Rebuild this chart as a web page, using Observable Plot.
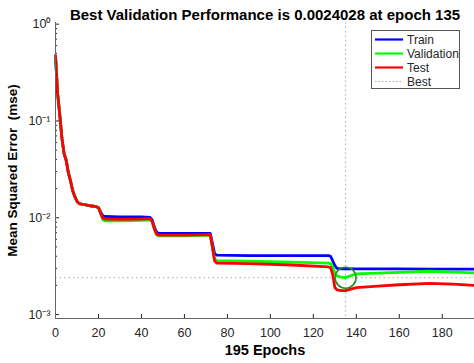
<!DOCTYPE html>
<html><head><meta charset="utf-8">
<script src="https://cdn.jsdelivr.net/npm/d3@7"></script>
<script src="https://cdn.jsdelivr.net/npm/@observablehq/plot@0.6"></script>
<style>
body{margin:0;background:#fff;}
#wrap{position:relative;width:474px;height:363px;overflow:hidden;font-family:"Liberation Sans",Arial,sans-serif;}
#legend{position:absolute;left:371px;top:30px;width:89px;height:59px;border:1px solid #555;background:#fff;box-sizing:border-box;}
</style></head><body><div id="wrap"></div>
<script>
const epochs = [0,1,2,3,4,5,6,7,8,9,10,11,13,16,19,20,21,22,23,30,40,44,45,46,47,48,60,72,73,74,75,90,110,127,128,129,130,131,133,135,137,140,150,160,174,185,195];
const early = [0.47,0.19,0.115,0.066,0.046,0.039,0.029,0.024,0.019,0.0165,0.0148,0.014,0.0137,0.0133,0.013,0.0127];
const train = early.concat([0.0115,0.0105,0.0103,0.0102,0.0102,0.0101,0.0095,0.008,0.0071,0.0069,0.0069,0.0069,0.0055,0.0043,0.0041,0.00406,0.00406,0.00406,0.004,0.0036,0.0032,0.003,0.00296,0.00296,0.00296,0.00296,0.00296,0.00296,0.00295,0.00295,0.00294]);
const validation = early.concat([0.011,0.0096,0.0093,0.0093,0.0094,0.0095,0.009,0.0076,0.0067,0.0065,0.0065,0.0066,0.005,0.0038,0.0036,0.00355,0.00348,0.0034,0.00335,0.0031,0.0027,0.0025,0.00243,0.0024028,0.0025,0.00263,0.00268,0.00273,0.0028,0.00274,0.00269]);
const test = early.concat([0.0112,0.0099,0.0097,0.0096,0.0097,0.0098,0.0092,0.0077,0.0068,0.0066,0.0066,0.0067,0.005,0.0036,0.0034,0.00335,0.00325,0.0031,0.00305,0.0026,0.0019,0.0018,0.00177,0.00177,0.00182,0.0019,0.00197,0.00203,0.0021,0.00206,0.002]);
const seriesNames = ["Train","Validation","Test"];
const seriesColors = ["#0000ff","#00ff00","#ff0000"];
const bestEpoch = 135;
const bestValue = 0.0024028;
const totalEpochs = 195;
const xTicks = [0,20,40,60,80,100,120,140,160,180];
const yTicks = [1e-3,1e-2,1e-1,1];
const yTickLabels = ["10\u207B\u00B3","10\u207B\u00B2","10\u207B\u00B9","10\u2070"];
const minorTicks = [2,3,4,5,6,7,8,9].flatMap(m => [1e-3,1e-2,1e-1].map(b => m*b));
const titleText = "Best Validation Performance is 0.0024028 at epoch 135";
const xLabel = "195 Epochs";
const yLabel = "Mean Squared Error \u00A0(mse)";

const allSeries = [train, validation, test];
const rows = seriesNames.flatMap((s, i) => epochs.map((e, j) => ({epoch: e, value: allSeries[i][j], series: s})));
const yDomain = [10**-3.041, 10**0.017];

const plot = Plot.plot({
  width: 474, height: 363,
  marginLeft: 55, marginRight: 0, marginTop: 22, marginBottom: 45,
  style: {fontFamily: "Liberation Sans, Arial, sans-serif", fontSize: "12px", color: "#262626", background: "white", overflow: "visible"},
  x: {domain: [0, totalEpochs]},
  y: {type: "log", domain: yDomain},
  color: {domain: seriesNames, range: seriesColors},
  marks: [
    Plot.ruleY([bestValue], {stroke: "#aaa", strokeDasharray: "1.5,3"}),
    Plot.ruleX([bestEpoch], {stroke: "#aaa", strokeDasharray: "1.5,3"}),
    Plot.line(rows, {x: "epoch", y: "value", z: "series", stroke: "series", strokeWidth: 2.8}),
    Plot.dot([{epoch: bestEpoch, value: bestValue}], {x: "epoch", y: "value", r: 10.5, stroke: "#1f8f1f", strokeWidth: 1.6, fill: "none"}),
    Plot.axisX(xTicks, {tickSize: -4, tickPadding: 14, label: null, fontSize: 12.5}),
    Plot.axisY(minorTicks, {tickSize: -2, tickFormat: () => "", label: null}),
    Plot.axisY(yTicks, {tickSize: -4, tickPadding: 9, tickFormat: d => yTickLabels[yTicks.indexOf(d)], label: null, fontSize: 12.5}),
    Plot.ruleX([0], {stroke: "#666"}),
    Plot.ruleY([yDomain[0]], {stroke: "#666"}),
    Plot.text([titleText], {text: d => d, frameAnchor: "top", dy: -13, fontSize: 15, fontWeight: "bold", fill: "#000"}),
    Plot.text([xLabel], {text: d => d, frameAnchor: "bottom", dy: 36, fontSize: 14.5, fontWeight: "bold", fill: "#000"}),
    Plot.text([yLabel], {text: d => d, frameAnchor: "left", textAnchor: "middle", dx: -43, rotate: -90, fontSize: 13.5, fontWeight: "bold", fill: "#000"})
  ]
});
const wrap = document.getElementById("wrap");
wrap.appendChild(plot);

// legend
const leg = document.createElement("div");
leg.id = "legend";
wrap.appendChild(leg);
const entries = seriesNames.map((s, i) => ({name: s, color: seriesColors[i], dash: null})).concat([{name: "Best", color: "#aaa", dash: "1.5,2"}]);
const svg = d3.select(leg).append("svg").attr("width", 87).attr("height", 57).style("display", "block");
const rowY = [8.5, 22.5, 36.5, 50.5];
entries.forEach((e, i) => {
  svg.append("line").attr("x1", 3).attr("x2", 31).attr("y1", rowY[i]).attr("y2", rowY[i])
    .attr("stroke", e.color).attr("stroke-width", e.dash ? 1 : 2.2).attr("stroke-dasharray", e.dash);
  svg.append("text").attr("x", 35).attr("y", rowY[i]).attr("dy", "0.35em")
    .attr("font-family", "Liberation Sans, Arial, sans-serif").attr("font-size", 12).attr("fill", "#262626").text(e.name);
});
</script></body></html>
